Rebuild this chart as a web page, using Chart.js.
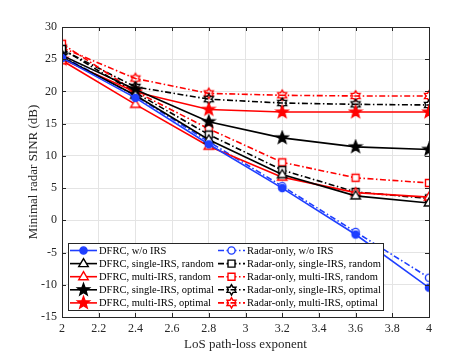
<!DOCTYPE html>
<html><head><meta charset="utf-8">
<script src="https://cdn.jsdelivr.net/npm/chart.js"></script>
<style>html,body{margin:0;padding:0;background:#fff}#wrap{width:474px;height:356px;position:relative}</style>
</head><body><div id="wrap"><canvas id="c" width="474" height="356"></canvas></div>
<script>
const xValues = [2, 2.4, 2.8, 3.2, 3.6, 4];
const xTicks = [2, 2.2, 2.4, 2.6, 2.8, 3, 3.2, 3.4, 3.6, 3.8, 4];
const yTicks = [-15, -10, -5, 0, 5, 10, 15, 20, 25, 30];
const dfrcNoIRS      = [25.2, 19.0, 11.8, 5.0, -2.2, -10.45];
const radarNoIRS     = [25.5, 19.3, 12.2, 5.3, -1.8, -8.9];
const dfrcSingleRand = [25.3, 19.4, 12.5, 7.1, 3.8, 2.7];
const radarSingleRand= [26.6, 19.8, 13.3, 7.8, 4.4, 3.4];
const dfrcMultiRand  = [24.8, 18.0, 11.5, 6.7, 4.3, 3.6];
const radarMultiRand = [27.4, 20.0, 14.2, 9.0, 6.6, 5.8];
const dfrcSingleOpt  = [25.6, 20.3, 15.3, 12.8, 11.4, 11.0];
const radarSingleOpt = [26.5, 20.7, 18.8, 18.2, 18.0, 17.9];
const dfrcMultiOpt   = [25.0, 19.9, 17.2, 16.8, 16.8, 16.8];
const radarMultiOpt  = [26.8, 22.0, 19.7, 19.4, 19.3, 19.3];

const BLUE = '#1f3fff', RED = '#ff0000', BLACK = '#000000';

function drawMarker(ctx, type, x, y, color, filled) {
  ctx.save();
  ctx.strokeStyle = color; ctx.fillStyle = color; ctx.lineWidth = 1.4; ctx.setLineDash([]);
  ctx.beginPath();
  if (type === 'circle') { ctx.arc(x, y, 3.6, 0, Math.PI * 2); }
  else if (type === 'square') { ctx.rect(x - 3.5, y - 3.5, 7, 7); }
  else if (type === 'triangle') { const r = 5; ctx.moveTo(x, y - r); ctx.lineTo(x + r * 0.95, y + r * 0.6); ctx.lineTo(x - r * 0.95, y + r * 0.6); ctx.closePath(); }
  else if (type === 'penta' || type === 'hexa') {
    const n = type === 'penta' ? 5 : 6; const R = type === 'penta' ? 6.3 : 5.2; const ri = type === 'penta' ? R * 0.42 : R * 0.58;
    for (let i = 0; i < 2 * n; i++) {
      const a = -Math.PI / 2 + i * Math.PI / n; const rr = i % 2 === 0 ? R : ri;
      const px = x + rr * Math.cos(a), py = y + rr * Math.sin(a);
      if (i === 0) ctx.moveTo(px, py); else ctx.lineTo(px, py);
    }
    ctx.closePath();
  }
  if (filled) ctx.fill(); else { ctx.fillStyle = '#fff'; if (type !== 'hexa') ctx.fill(); }
  ctx.stroke();
  ctx.restore();
}
function markerCanvas(type, color, filled) {
  const cv = document.createElement('canvas'); cv.width = 16; cv.height = 16;
  drawMarker(cv.getContext('2d'), type, 8, 8, color, filled); return cv;
}
const SOLID = [], DASHDOT = [6, 2.5, 1.5, 2.5];
const series = [
  {label: 'DFRC, w/o IRS', data: dfrcNoIRS, color: BLUE, m: 'circle', f: true, dash: SOLID},
  {label: 'DFRC, single-IRS, random', data: dfrcSingleRand, color: BLACK, m: 'triangle', f: false, dash: SOLID},
  {label: 'DFRC, multi-IRS, random', data: dfrcMultiRand, color: RED, m: 'triangle', f: false, dash: SOLID},
  {label: 'DFRC, single-IRS, optimal', data: dfrcSingleOpt, color: BLACK, m: 'penta', f: true, dash: SOLID},
  {label: 'DFRC, multi-IRS, optimal', data: dfrcMultiOpt, color: RED, m: 'penta', f: true, dash: SOLID},
  {label: 'Radar-only, w/o IRS', data: radarNoIRS, color: BLUE, m: 'circle', f: false, dash: DASHDOT},
  {label: 'Radar-only, single-IRS, random', data: radarSingleRand, color: BLACK, m: 'square', f: false, dash: DASHDOT},
  {label: 'Radar-only, multi-IRS, random', data: radarMultiRand, color: RED, m: 'square', f: false, dash: DASHDOT},
  {label: 'Radar-only, single-IRS, optimal', data: radarSingleOpt, color: BLACK, m: 'hexa', f: false, dash: DASHDOT},
  {label: 'Radar-only, multi-IRS, optimal', data: radarMultiOpt, color: RED, m: 'hexa', f: false, dash: DASHDOT}
];
const datasets = series.map(s => ({
  label: s.label,
  data: xValues.map((x, i) => ({x: x, y: s.data[i]})),
  borderColor: s.color, backgroundColor: s.color, borderWidth: 1.6, borderDash: s.dash,
  pointStyle: markerCanvas(s.m, s.color, s.f), pointRadius: 6, pointHoverRadius: 6,
  tension: 0, fill: false
}));

const FONT = 'Liberation Serif';
const boxPlugin = {
  id: 'boxLegend',
  afterDraw(chart) {
    const ctx = chart.ctx, a = chart.chartArea;
    ctx.save();
    ctx.strokeStyle = '#262626'; ctx.lineWidth = 1; ctx.setLineDash([]);
    const xs = chart.scales.x, ys = chart.scales.y;
    ctx.beginPath();
    xTicks.forEach(t => { const px = Math.round(xs.getPixelForValue(t)) + 0.5; ctx.moveTo(px, a.bottom); ctx.lineTo(px, a.bottom - 4); ctx.moveTo(px, a.top); ctx.lineTo(px, a.top + 4); });
    yTicks.forEach(t => { const py = Math.round(ys.getPixelForValue(t)) + 0.5; ctx.moveTo(a.left, py); ctx.lineTo(a.left + 4, py); ctx.moveTo(a.right, py); ctx.lineTo(a.right - 4, py); });
    ctx.stroke();
    ctx.strokeRect(Math.round(a.left) + 0.5, Math.round(a.top) + 0.5, Math.round(a.right - a.left), Math.round(a.bottom - a.top));
    const lx = 68, ly = 243, lw = 315, lh = 67;
    ctx.fillStyle = '#fff'; ctx.fillRect(lx, ly, lw, lh);
    ctx.strokeStyle = '#262626'; ctx.strokeRect(lx + 0.5, ly + 0.5, lw, lh);
    ctx.font = '10.5px "' + FONT + '"'; ctx.textBaseline = 'middle'; ctx.textAlign = 'left';
    series.forEach((s, i) => {
      const col = Math.floor(i / 5), row = i % 5;
      const x0 = lx + 2 + col * 148, y0 = ly + 7.5 + row * 13.1;
      ctx.strokeStyle = s.color; ctx.lineWidth = 1.6; ctx.setLineDash(s.dash);
      ctx.beginPath(); ctx.moveTo(x0, y0); ctx.lineTo(x0 + 27, y0); ctx.stroke();
      ctx.setLineDash([]);
      drawMarker(ctx, s.m, x0 + 13.5, y0, s.color, s.f);
      ctx.fillStyle = '#000'; ctx.fillText(s.label, x0 + 29, y0 + 0.5);
    });
    ctx.restore();
  }
};

new Chart(document.getElementById('c'), {
  type: 'line',
  data: {datasets},
  plugins: [boxPlugin],
  options: {
    responsive: false, animation: false, events: [],
    layout: {padding: {left: 26, right: 45, top: 27, bottom: 4}},
    plugins: {legend: {display: false}, tooltip: {enabled: false}},
    scales: {
      x: {
        type: 'linear', min: 2, max: 4,
        afterBuildTicks: s => { s.ticks = xTicks.map(v => ({value: v})); },
        afterFit: s => { s.height = 35; },
        grid: {color: '#e4e4e4', drawTicks: false},
        border: {display: false},
        ticks: {padding: 5, color: '#262626', font: {family: FONT, size: 12}, maxRotation: 0, autoSkip: false,
          callback: v => String(Math.round(v * 10) / 10)},
        title: {display: true, text: 'LoS path-loss exponent', color: '#262626', font: {family: FONT, size: 13}, padding: {top: 2, bottom: 0}}
      },
      y: {
        min: -15, max: 30,
        afterBuildTicks: s => { s.ticks = yTicks.map(v => ({value: v})); },
        afterFit: s => { s.width = 36; },
        grid: {color: '#e4e4e4', drawTicks: false},
        border: {display: false},
        ticks: {padding: 5, color: '#262626', font: {family: FONT, size: 12}, autoSkip: false},
        title: {display: true, text: 'Minimal radar SINR (dB)', color: '#262626', font: {family: FONT, size: 13}, padding: {top: 0, bottom: 2}}
      }
    }
  }
});
</script></body></html>
